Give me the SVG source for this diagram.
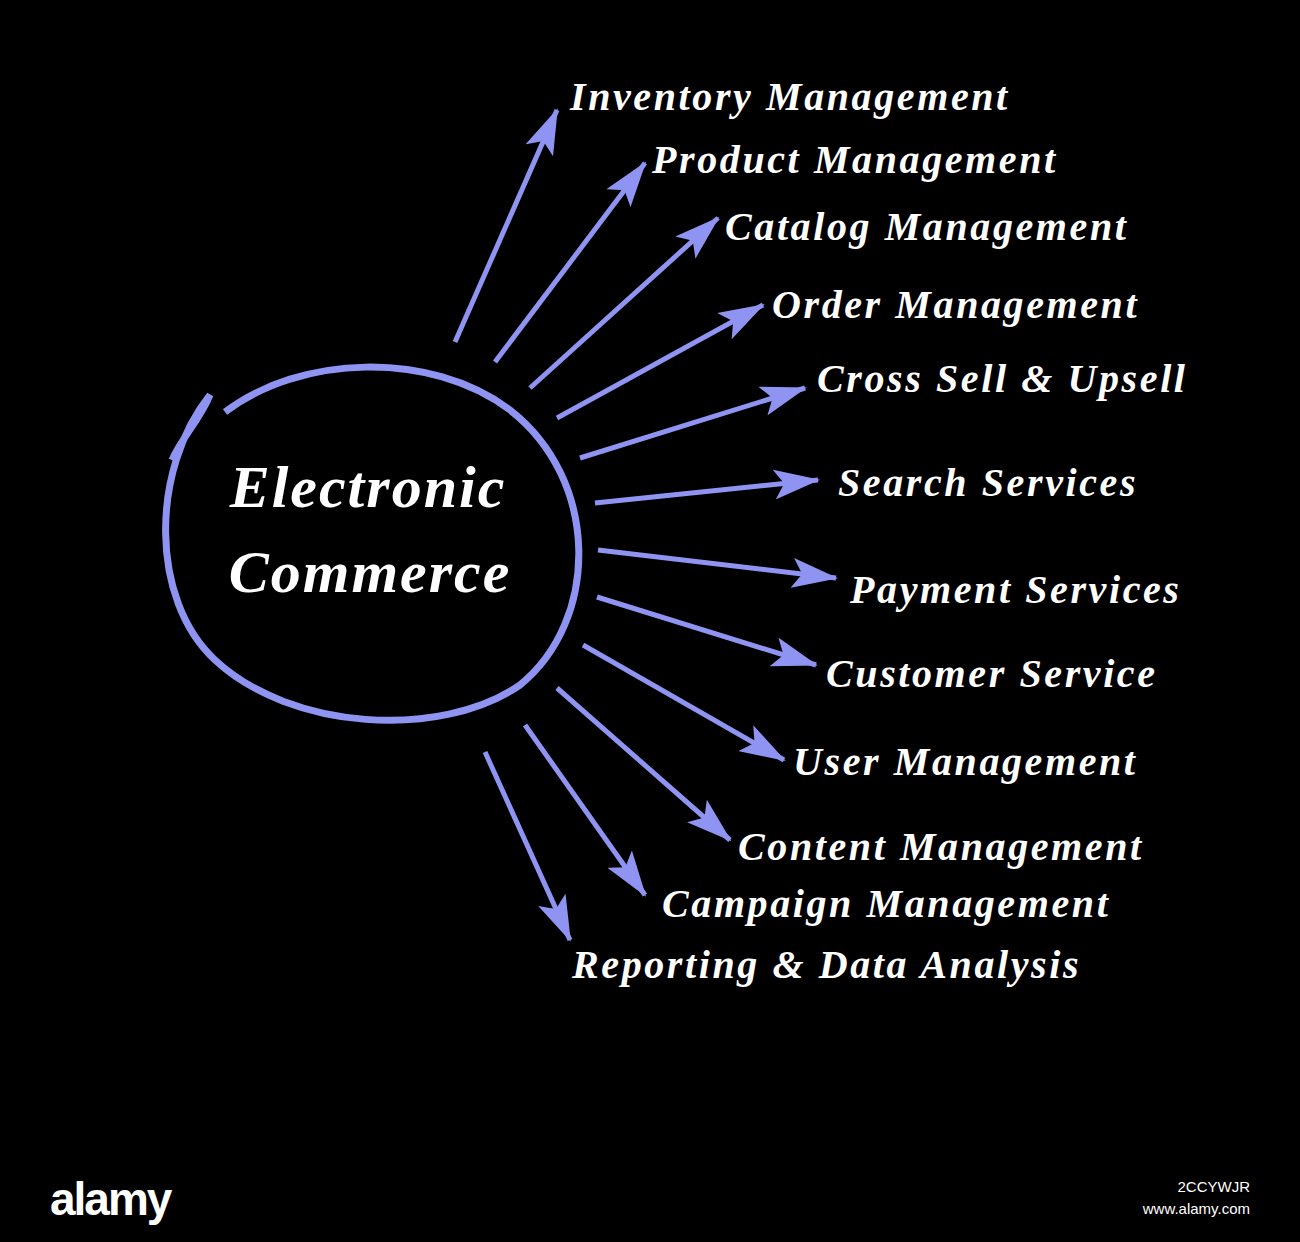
<svg xmlns="http://www.w3.org/2000/svg" width="1300" height="1242" viewBox="0 0 1300 1242">
<style>
.l{font-family:"Liberation Serif",serif;font-style:italic;font-weight:bold;font-size:40px;letter-spacing:2.6px;fill:#fff}
.t{font-family:"Liberation Serif",serif;font-style:italic;font-weight:bold;font-size:60px;letter-spacing:2px;fill:#fff;text-anchor:middle}
.a{stroke:#8f94f2;stroke-width:5;fill:none;marker-end:url(#h)}
</style>
<defs><marker id="h" markerUnits="userSpaceOnUse" markerWidth="50" markerHeight="30" refX="44" refY="15" orient="auto"><path d="M0,0 L46,15 L0,30 L10,15 Z" fill="#8f94f2"/></marker></defs>
<rect width="1300" height="1242" fill="#000"/>
<g id="center">
<path d="M225,412 C300,355 430,350 510,410 C600,480 600,620 520,685 C440,740 290,730 215,660 C150,600 150,470 210,395 C200,420 180,440 172,460" fill="none" stroke="#8f94f2" stroke-width="7"/>
<text class="t" x="368" y="507">Electronic</text>
<text class="t" x="370" y="592">Commerce</text>
</g>
<g id="connectors">
<line class="a" x1="455" y1="342" x2="557" y2="110"/>
<line class="a" x1="495" y1="362" x2="645" y2="163"/>
<line class="a" x1="530" y1="388" x2="718" y2="218"/>
<line class="a" x1="557" y1="418" x2="763" y2="305"/>
<line class="a" x1="580" y1="458" x2="805" y2="388"/>
<line class="a" x1="595" y1="503" x2="818" y2="480"/>
<line class="a" x1="598" y1="550" x2="836" y2="578"/>
<line class="a" x1="597" y1="597" x2="816" y2="665"/>
<line class="a" x1="583" y1="645" x2="784" y2="760"/>
<line class="a" x1="557" y1="688" x2="730" y2="840"/>
<line class="a" x1="525" y1="725" x2="645" y2="895"/>
<line class="a" x1="485" y1="752" x2="570" y2="940"/>
</g>
<g id="n1"><text class="l" x="570" y="110">Inventory Management</text></g>
<g id="n2"><text class="l" x="652" y="173">Product Management</text></g>
<g id="n3"><text class="l" x="725" y="240">Catalog Management</text></g>
<g id="n4"><text class="l" x="772" y="318">Order Management</text></g>
<g id="n5"><text class="l" x="817" y="392">Cross Sell &amp; Upsell</text></g>
<g id="n6"><text class="l" x="838" y="496">Search Services</text></g>
<g id="n7"><text class="l" x="850" y="603">Payment Services</text></g>
<g id="n8"><text class="l" x="826" y="687">Customer Service</text></g>
<g id="n9"><text class="l" x="793" y="775">User Management</text></g>
<g id="n10"><text class="l" x="738" y="860">Content Management</text></g>
<g id="n11"><text class="l" x="662" y="917">Campaign Management</text></g>
<g id="n12"><text class="l" x="572" y="978">Reporting &amp; Data Analysis</text></g>
<g id="footer" font-family="Liberation Sans,sans-serif" fill="#fff">
<text x="50" y="1215" font-size="46" font-weight="bold" letter-spacing="-2">alamy</text>
<text x="1250" y="1192" font-size="15" text-anchor="end">2CCYWJR</text>
<text x="1250" y="1214" font-size="15" text-anchor="end">www.alamy.com</text>
</g>
</svg>
